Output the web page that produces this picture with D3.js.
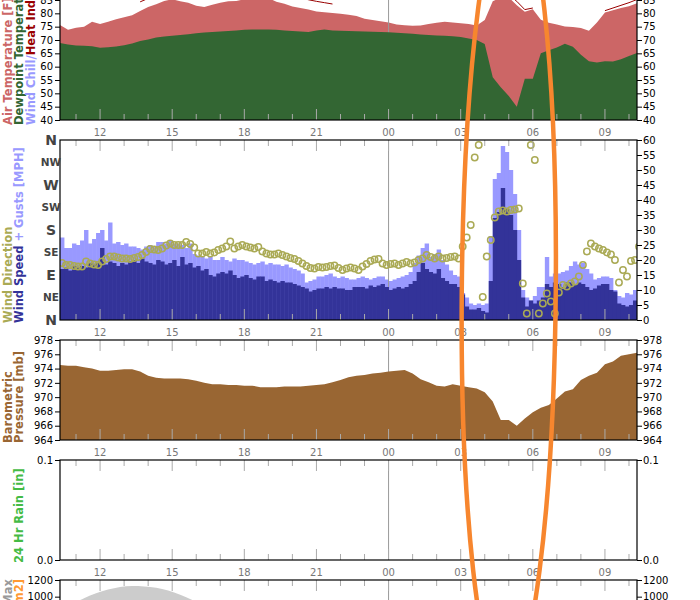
<!DOCTYPE html>
<html>
<head>
<meta charset="utf-8">
<script src="https://cdn.jsdelivr.net/npm/d3@7"></script>
<style>
body { margin: 0; background: #fff; }
svg { display: block; }
text { font-family: "DejaVu Sans", sans-serif; }
</style>
</head>
<body>
<div id="chart"></div>
<script>
// time axis: hours since midnight of day 1 (10:20 -> 10:20 next day)
var tStart = 10 + 20 / 60, tEnd = 34 + 20 / 60;
var tickHours = [12, 15, 18, 21, 24, 27, 30, 33];
var tickLabels = ["12", "15", "18", "21", "00", "03", "06", "09"];

// 20 minute samples
var airTemp = [75.6, 73.8, 74.6, 75.0, 76.8, 76.0, 76.8, 77.8, 78.5, 79.3,
    80.9, 82.4, 83.4, 84.6, 85.3, 84.5, 84.0, 82.8, 82.4, 83.2,
    84.0, 84.5, 84.6, 85.3, 86.0, 86.0, 85.8, 84.3, 83.6, 82.6,
    82.0, 81.4, 80.7, 80.4, 80.1, 79.8, 79.5, 79.0, 78.0, 77.5,
    77.0, 76.6, 75.8, 75.5, 75.3, 75.4, 76.0, 76.5, 76.8, 76.6,
    76.3, 76.0, 75.4, 77.5, 84.5, 86.0, 86.0, 83.0, 80.6, 81.5,
    77.6, 76.5, 75.8, 75.1, 74.9, 74.5, 73.5, 76.6, 80.3, 81.2,
    82.0, 82.7, 83.8];
var dewPoint = [68.9, 68.3, 67.9, 67.8, 67.7, 67.1, 67.3, 67.6, 68.0, 68.7,
    69.6, 70.2, 70.9, 71.3, 71.6, 71.9, 72.2, 72.5, 72.8, 73.0,
    73.2, 73.4, 73.6, 73.8, 73.9, 73.9, 73.9, 73.8, 73.6, 73.4,
    73.2, 73.0, 73.6, 73.9, 73.6, 73.5, 73.4, 73.3, 73.2, 73.1,
    73.0, 72.9, 72.7, 72.5, 72.3, 72.1, 71.9, 71.7, 71.6, 71.4,
    71.1, 70.6, 70.0, 68.5, 56.0, 52.3, 49.0, 45.0, 55.5, 55.5,
    65.0, 66.2, 67.2, 68.6, 67.5, 64.5, 62.0, 61.6, 62.0, 61.9,
    62.8, 64.0, 65.1];
var heatIndex = [null, null, null, null, null, null, null, null, null, null,
    84.3, 85.6, 86.8, 88.2, 89.0, 88.5, 88.0, 86.8, 86.2, 87.2,
    88.2, 88.6, 88.8, 89.5, 90.0, 90.0, 89.8, 88.6, 87.6, 86.5,
    85.8, 85.1, 84.5, 84.0, 83.5, null, null, null, null, null,
    null, null, null, null, null, null, null, null, null, null,
    null, null, null, null, 85.5, 87.0, 87.0, 84.5, 81.4, 82.0,
    null, null, null, null, null, null, null, null, 81.0, 82.0,
    83.0, 84.0, 85.2];
var pressure = [974.5, 974.4, 974.4, 974.2, 974.0, 973.7, 973.7, 973.8, 973.9, 973.9,
    973.6, 973.0, 972.7, 972.6, 972.6, 972.6, 972.5, 972.3, 972.0, 971.8,
    971.8, 971.7, 971.7, 971.6, 971.6, 971.4, 971.4, 971.4, 971.5, 971.5,
    971.5, 971.6, 971.7, 971.8, 972.1, 972.4, 972.8, 973.0, 973.1, 973.3,
    973.4, 973.6, 973.7, 973.8, 973.3, 972.5, 972.1, 971.6, 971.5, 971.8,
    971.6, 971.4, 971.2, 970.7, 969.4, 966.8, 966.8, 966.0, 967.0, 967.9,
    968.5, 968.9, 969.8, 970.8, 971.1, 972.4, 973.0, 973.4, 974.6, 975.0,
    975.8, 976.0, 976.2];

// 10 minute samples
var windSpeed = [17, 17.5, 16.5, 18, 17.5, 18, 17.5, 19, 18.5, 19,
    24, 18.5, 19.5, 19, 18, 19, 18.5, 19.5, 20, 19,
    20.5, 19.5, 19, 18.5, 20, 19.5, 18.5, 19, 20, 18,
    21, 18.5, 19, 17.5, 18, 16.5, 17, 15, 14.5, 15.5,
    16, 15.5, 16.5, 15, 14, 14.5, 15, 14, 13.5, 14.5,
    14.5, 13, 13.5, 13, 12.5, 13, 12.5, 12.5, 12, 11.5,
    11, 10.5, 9.5, 10, 10.5, 10.5, 11, 10.5, 11, 10.5,
    10.5, 10, 10, 11, 11, 11, 10.5, 11.5, 11, 11.5,
    12, 11, 10, 10.5, 11, 10.5, 11, 12, 13, 16,
    19, 17, 16, 15.5, 17, 14, 13, 12, 12, 11,
    8.5, 4.5, 3.5, 3.5, 4, 3, 2.5, 13, 34, 36,
    44, 37, 35, 30, 20, 7.5, 4.5, 6.5, 5.5, 6.5,
    7.5, 12, 11, 12.5, 12, 11, 12.5, 12.5, 12, 12.5,
    12, 11, 10, 10.5, 11.5, 12, 12, 10, 9.5, 5.5,
    5, 4.5, 5, 6.5, 7];
var windGust = [27.5, 24, 24, 25.5, 25, 26.5, 30, 25.5, 27, 29,
    30, 26.5, 32.5, 25.5, 26, 25, 25.5, 24.5, 24.5, 24,
    23.5, 24.5, 25, 24.5, 26, 26, 25.5, 26.5, 25.5, 25.5,
    25, 24, 25.5, 22, 21.5, 21, 20.5, 21, 20, 20,
    21, 20, 19.5, 20.5, 20, 20, 19.5, 19, 18.5, 19,
    19.5, 18.5, 19, 18.5, 18.5, 18, 18.5, 17.5, 17, 16.5,
    15.5, 12.5, 13, 13.5, 14.5, 14.5, 15, 15.5, 14.5, 14,
    14.5, 14, 13.5, 13.5, 14, 14.5, 14, 13.5, 14, 14.5,
    14.5, 13.5, 13, 13.5, 14, 14.5, 15, 16, 19, 21.5,
    24, 25.5, 21, 22, 23.5, 20, 18.5, 16.5, 15, 14.5,
    9, 7.5, 5.5, 5, 5.5, 5, 5.5, 28, 47, 49,
    58, 56, 50, 42, 30, 10, 7.5, 6.5, 8, 11,
    11, 21, 14.5, 15.5, 15.5, 16, 16.5, 18, 19.5, 18.5,
    19, 17, 15.5, 13.5, 14, 14.5, 14.5, 14, 10, 8,
    7.5, 9, 8.5, 10, 9.5];
var windDir = [114, 110, 110, 108, 107, 107, 117, 113, 111, 110,
    117, 122, 127, 127, 125, 123, 123, 122, 124, 126,
    130, 136, 142, 141, 140, 143, 149, 153, 150, 150,
    150, 156, 152, 145, 133, 133, 136, 133, 135, 140,
    143, 147, 157, 143, 147, 150, 147, 145, 143, 146,
    137, 133, 131, 131, 133, 130, 127, 124, 122, 118,
    113, 108, 104, 103, 106, 105, 106, 108, 109, 104,
    100, 103, 105, 103, 100, 107, 112, 118, 121, 122,
    113, 110, 112, 113, 110, 113, 116, 113, 115, 120,
    123, 130, 126, 123, 127, 123, 124, 126, 127, 123,
    147, 165, 190, 325, 350, 46, 127, 160, 205, 217,
    219, 217, 220, 221, 223, 73, 13, 350, 320, 13,
    33, 53, 37, 13, 55, 70, 67, 73, 77, 87,
    110, 137, 153, 147, 143, 140, 135, 131, 120, 75,
    100, 87, 118, 120, 147];

// hourly theoretical maximum solar radiation
var maxSolar = [824, 982, 1086, 1129, 1108, 1024, 883, 692, 462, 206,
    0, 0, 0, 0, 0, 0, 0, 0, 0, 0,
    0, 118, 377, 619, 824];

var dirLabels = ["N", "NE", "E", "SE", "S", "SW", "W", "NW", "N"];
var dirValues = [0, 45, 90, 135, 180, 225, 270, 315, 360];

var t20 = airTemp.map(function(d, i) { return tStart + i / 3; });
var t10 = windSpeed.map(function(d, i) { return tStart + i / 6; });
var tSolar = maxSolar.map(function(d, i) { return tStart + i; });

var left = 60, right = 637;
var x = d3.scaleLinear().domain([tStart, tEnd]).range([left, right]);

var svg = d3.select("#chart").append("svg")
    .attr("width", 700)
    .attr("height", 600);
var defs = svg.append("defs");

function plotArea(id, top, bottom) {
    defs.append("clipPath").attr("id", id)
        .append("rect")
        .attr("x", left).attr("y", top)
        .attr("width", right - left).attr("height", bottom - top);
    return svg.append("g").attr("clip-path", "url(#" + id + ")");
}

function midnight(g, top, bottom) {
    g.append("line")
        .attr("x1", x(24)).attr("x2", x(24))
        .attr("y1", top).attr("y2", bottom)
        .attr("stroke", "#999").attr("stroke-width", 1);
}

// hour ticks inside, frame, time labels under the panel
function frame(top, bottom) {
    var hours = d3.range(11, 35);
    var g = svg.append("g");
    hours.forEach(function(h) {
        var len = h % 3 == 0 ? 11 : 6;
        g.append("line").attr("x1", x(h)).attr("x2", x(h))
            .attr("y1", top).attr("y2", top + len)
            .attr("stroke", "#aaa");
        g.append("line").attr("x1", x(h)).attr("x2", x(h))
            .attr("y1", bottom - len).attr("y2", bottom)
            .attr("stroke", "#aaa");
    });
    g.append("rect")
        .attr("x", left).attr("y", top)
        .attr("width", right - left).attr("height", bottom - top)
        .attr("fill", "none").attr("stroke", "#000").attr("stroke-width", 1.2);
    g.selectAll(".hlabel")
        .data(tickHours)
        .enter().append("text")
        .attr("x", function(d) { return x(d); })
        .attr("y", bottom + 16)
        .attr("text-anchor", "middle")
        .attr("font-size", "10px")
        .attr("fill", "#777")
        .text(function(d, i) { return tickLabels[i]; });
}

function sideAxes(y, values, fmt, showLeft) {
    var l = d3.axisLeft(y).tickValues(values).tickSize(5).tickPadding(2).tickFormat(fmt);
    var r = d3.axisRight(y).tickValues(values).tickSize(5).tickPadding(1).tickFormat(fmt);
    if (showLeft) {
        var gl = svg.append("g").attr("transform", `translate(${left},0)`).call(l);
        gl.select(".domain").remove();
        gl.selectAll("text").attr("font-size", "10px").attr("font-family", "DejaVu Sans").attr("fill", "#000");
    }
    var gr = svg.append("g").attr("transform", `translate(${right},0)`).call(r);
    gr.select(".domain").remove();
    gr.selectAll("text").attr("font-size", "10px").attr("font-family", "DejaVu Sans").attr("fill", "#000");
}

function vlabel(xb, yb, parts, anchor) {
    var t = svg.append("text")
        .attr("transform", `translate(${xb},${yb}) rotate(-90)`)
        .attr("text-anchor", anchor || "start")
        .attr("font-family", "DejaVu Sans Mono")
        .attr("font-weight", "bold")
        .attr("font-size", "11.5px")
        .style("white-space", "pre");
    parts.forEach(function(p) {
        t.append("tspan").attr("fill", p[1]).text(p[0]);
    });
}

// ---------- temperature panel ----------
var tTop = -13.33, tBot = 120;
var yT = d3.scaleLinear().domain([40, 90]).range([tBot, tTop]);
var pT = plotArea("clipT", tTop, tBot);
pT.append("path")
    .datum(airTemp)
    .attr("fill", "#cc6666")
    .attr("d", d3.area()
        .x(function(d, i) { return x(t20[i]); })
        .y0(tBot)
        .y1(function(d) { return yT(d); }));
midnight(pT, tTop, tBot);
pT.append("path")
    .datum(dewPoint)
    .attr("fill", "#336633")
    .attr("d", d3.area()
        .x(function(d, i) { return x(t20[i]); })
        .y0(tBot)
        .y1(function(d) { return yT(d); }));
pT.append("path")
    .datum(heatIndex)
    .attr("fill", "none")
    .attr("stroke", "#990000")
    .attr("stroke-width", 1)
    .attr("d", d3.line()
        .defined(function(d) { return d != null; })
        .x(function(d, i) { return x(t20[i]); })
        .y(function(d) { return yT(d); }));
frame(tTop, tBot);
sideAxes(yT, d3.range(40, 90, 5), d3.format("d"), true);
vlabel(11.5, 125, [["Air Temperature [F]", "#cc6666"]]);
vlabel(23.2, 125, [["Dewpoint Temperature [F]", "#336633"]]);
vlabel(35, 125, [["Wind Chill/", "#9999ff"], ["Heat Index [F]", "#990000"]]);

// ---------- wind panel ----------
var wTop = 140, wBot = 320;
var ySpd = d3.scaleLinear().domain([0, 60]).range([wBot, wTop]);
var yDir = d3.scaleLinear().domain([0, 360]).range([wBot, wTop]);
var pW = plotArea("clipW", wTop, wBot);
var barW = x(tStart + 1 / 6) - x(tStart);
pW.selectAll(".gust")
    .data(windGust)
    .enter().append("rect")
    .attr("x", function(d, i) { return x(t10[i]); })
    .attr("width", barW + 0.4)
    .attr("y", function(d) { return ySpd(d); })
    .attr("height", function(d) { return wBot - ySpd(d); })
    .attr("fill", "#9999ff");
midnight(pW, wTop, wBot);
pW.selectAll(".speed")
    .data(windSpeed)
    .enter().append("rect")
    .attr("x", function(d, i) { return x(t10[i]); })
    .attr("width", barW + 0.4)
    .attr("y", function(d) { return ySpd(d); })
    .attr("height", function(d) { return wBot - ySpd(d); })
    .attr("fill", "#333399");
pW.selectAll(".dir")
    .data(windDir)
    .enter().append("circle")
    .attr("cx", function(d, i) { return x(t10[i]) + barW / 2; })
    .attr("cy", function(d) { return yDir(d); })
    .attr("r", 3.2)
    .attr("fill", "none")
    .attr("stroke", "#aaaa55")
    .attr("stroke-width", 1.5);
frame(wTop, wBot);
sideAxes(ySpd, d3.range(0, 61, 5), d3.format("d"), false);
svg.selectAll(".dirlabel")
    .data(dirValues)
    .enter().append("text")
    .attr("x", 51)
    .attr("y", function(d) { return yDir(d); })
    .attr("dy", "0.36em")
    .attr("text-anchor", "middle")
    .attr("font-family", "DejaVu Sans Mono")
    .attr("font-weight", "bold")
    .attr("font-size", function(d, i) { return i % 2 == 0 ? "14px" : "10.5px"; })
    .attr("fill", "#444")
    .text(function(d, i) { return dirLabels[i]; });
vlabel(11.5, 323, [["Wind Direction", "#aaaa55"]]);
vlabel(23.2, 323, [["Wind Speed", "#333399"], [" + Gusts [MPH]", "#9999ff"]]);

// ---------- pressure panel ----------
var pTop = 340, pBot = 440;
var yP = d3.scaleLinear().domain([964, 978]).range([pBot, pTop]);
var pP = plotArea("clipP", pTop, pBot);
midnight(pP, pTop, pBot);
pP.append("path")
    .datum(pressure)
    .attr("fill", "#996633")
    .attr("d", d3.area()
        .x(function(d, i) { return x(t20[i]); })
        .y0(pBot)
        .y1(function(d) { return yP(d); }));
frame(pTop, pBot);
sideAxes(yP, d3.range(964, 979, 2), d3.format("d"), true);
vlabel(11.5, 443, [["Barometric", "#996633"]]);
vlabel(23.2, 443, [["Pressure [mb]", "#996633"]]);

// ---------- rain panel ----------
var rTop = 460, rBot = 560;
var yR = d3.scaleLinear().domain([0, 0.1]).range([rBot, rTop]);
var pR = plotArea("clipR", rTop, rBot);
midnight(pR, rTop, rBot);
frame(rTop, rBot);
sideAxes(yR, [0, 0.1], d3.format(".1f"), true);
vlabel(23.2, 563, [["24 Hr Rain [in]", "#44bb44"]]);

// ---------- solar panel ----------
var sTop = 580, sBot = 680;
var yS = d3.scaleLinear().domain([0, 1200]).range([sBot, sTop]);
var pS = plotArea("clipS", sTop, sBot);
pS.append("path")
    .datum(maxSolar)
    .attr("fill", "#cccccc")
    .attr("d", d3.area()
        .curve(d3.curveMonotoneX)
        .x(function(d, i) { return x(tSolar[i]); })
        .y0(sBot)
        .y1(function(d) { return yS(d); }));
midnight(pS, sTop, sBot);
frame(sTop, sBot);
sideAxes(yS, d3.range(0, 1201, 200), d3.format("d"), true);
vlabel(11.5, 579, [["Theoretical Max", "#999999"]], "end");
vlabel(23.2, 579, [["Solar Radiation [W/m2]", "#ff9933"]], "end");

// ---------- hand drawn highlight ----------
svg.append("ellipse")
    .attr("cx", x(29))
    .attr("cy", 290)
    .attr("rx", 47)
    .attr("ry", 396)
    .attr("transform", `rotate(0.5,${x(29)},290)`)
    .attr("fill", "none")
    .attr("stroke", "#f7862e")
    .attr("stroke-width", 4.5);
</script>
</body>
</html>
